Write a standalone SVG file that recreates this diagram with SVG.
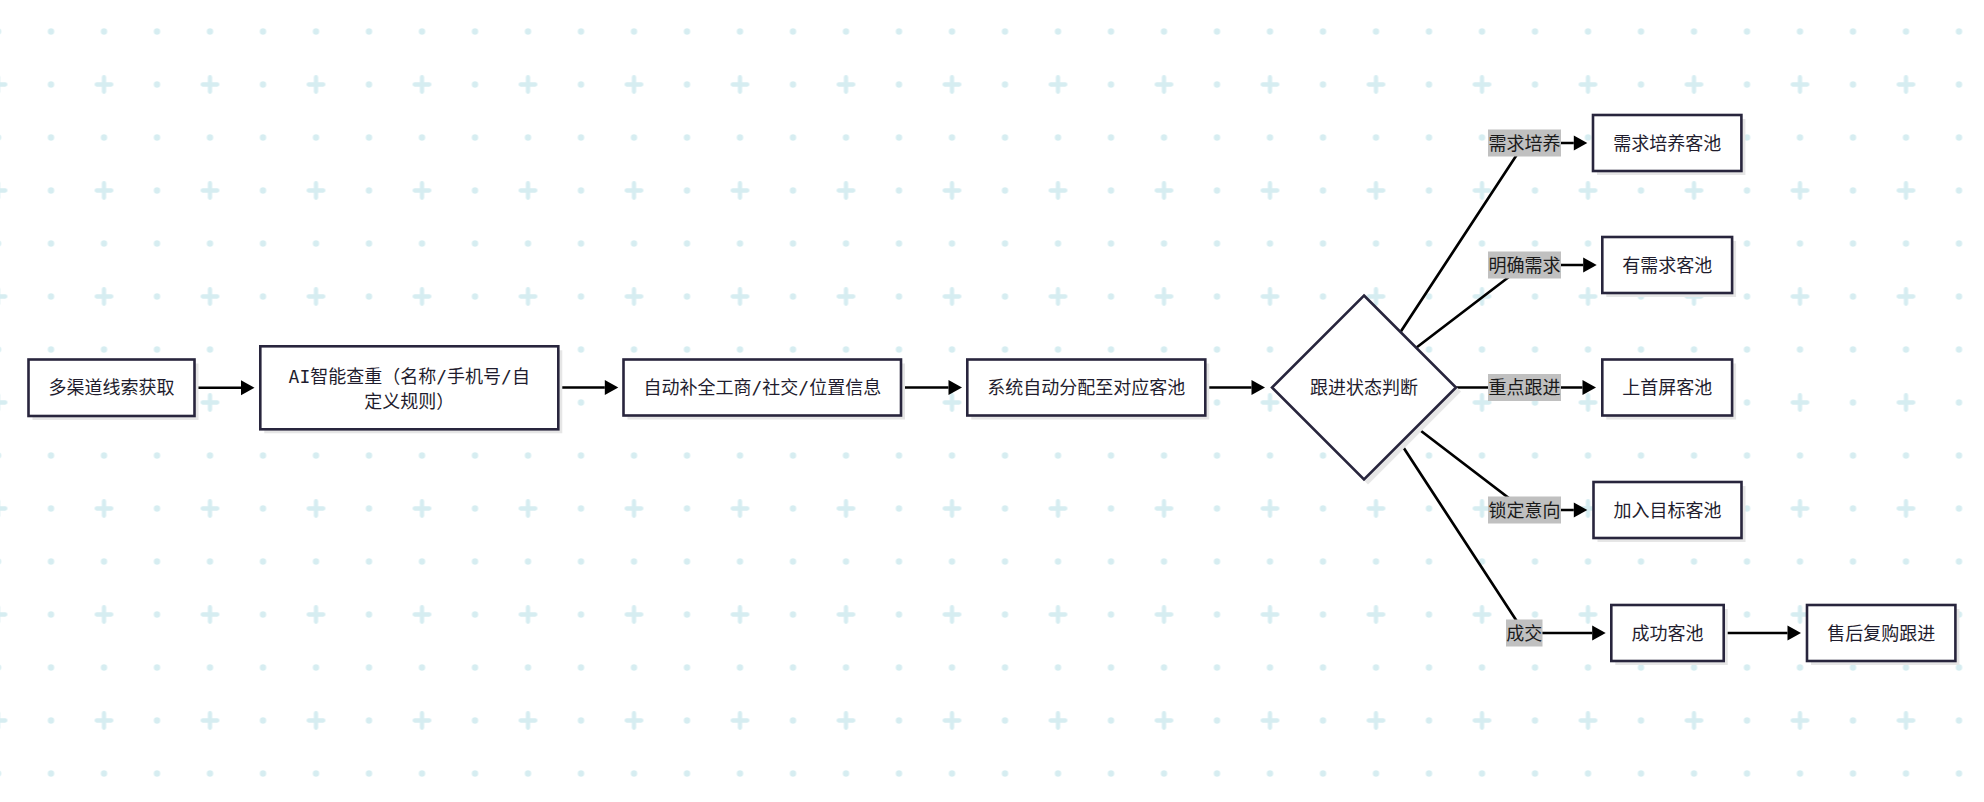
<svg xmlns="http://www.w3.org/2000/svg" width="1984" height="802" viewBox="0 0 1984 802">
<defs>
<style>
.box{fill:#ffffff;stroke:#28253d;stroke-width:2.6}
.shadow{fill:#e6e6e6;stroke:none}
.txt{font-family:"DejaVu Sans Mono","Noto Sans CJK SC",monospace;font-size:18px;fill:#1f1d2e;text-anchor:middle}
.edge{fill:none;stroke:#000000;stroke-width:2.7}
.lbg{fill:#c0c0c0}
.ltxt{font-family:"DejaVu Sans Mono","Noto Sans CJK SC",monospace;font-size:18px;fill:#1a1a1a;text-anchor:middle}
</style>
<pattern id="grid" x="-28.5" y="58" width="106" height="106" patternUnits="userSpaceOnUse">
<path d="M19.2,26.5 H33.8 M26.5,19.2 V33.8" stroke="#d6edf1" stroke-width="4.3" stroke-linecap="round" fill="none"/>
<circle cx="79.5" cy="26.5" r="3.2" fill="#d6edf1"/>
<circle cx="26.5" cy="79.5" r="3.2" fill="#d6edf1"/>
<circle cx="79.5" cy="79.5" r="3.2" fill="#d6edf1"/>
</pattern>
<marker id="arrow" markerUnits="userSpaceOnUse" markerWidth="14" markerHeight="16" refX="0" refY="7.5" orient="auto" overflow="visible">
<path d="M0,0 L13.5,7.5 L0,15 Z" fill="#000000"/>
</marker>
</defs>
<rect x="0" y="0" width="1984" height="802" fill="#ffffff"/>
<rect x="0" y="0" width="1984" height="802" fill="url(#grid)"/>

<g id="connectors">
<path class="edge" d="M196,387.75 H241" marker-end="url(#arrow)"/>
<path class="edge" d="M559.3,387.5 H604.8" marker-end="url(#arrow)"/>
<path class="edge" d="M902.3,387.5 H948.5" marker-end="url(#arrow)"/>
<path class="edge" d="M1206.7,387.5 H1251.5" marker-end="url(#arrow)"/>
<path class="edge" d="M1400.5,331.95 L1524.5,143 H1573.8" marker-end="url(#arrow)"/>
<path class="edge" d="M1416.2,347.7 L1524.5,265 H1583.2" marker-end="url(#arrow)"/>
<path class="edge" d="M1456,387.5 H1582.5" marker-end="url(#arrow)"/>
<path class="edge" d="M1416.2,427.3 L1524.5,510 H1573.8" marker-end="url(#arrow)"/>
<path class="edge" d="M1400.5,443.05 L1524.5,633 H1592.2" marker-end="url(#arrow)"/>
<path class="edge" d="M1725,633 H1787.5" marker-end="url(#arrow)"/>
<g id="label-1">
<rect class="lbg" x="1488" y="129.5" width="73" height="27"/>
<text class="ltxt" x="1524.5" y="149.5">需求培养</text>
</g>
<g id="label-2">
<rect class="lbg" x="1488" y="251.5" width="73" height="27"/>
<text class="ltxt" x="1524.5" y="271.5">明确需求</text>
</g>
<g id="label-3">
<rect class="lbg" x="1488" y="374" width="73" height="27"/>
<text class="ltxt" x="1524.5" y="394">重点跟进</text>
</g>
<g id="label-4">
<rect class="lbg" x="1488" y="496.5" width="73" height="27"/>
<text class="ltxt" x="1524.5" y="516.5">锁定意向</text>
</g>
<g id="label-5">
<rect class="lbg" x="1506" y="619.5" width="36.5" height="27"/>
<text class="ltxt" x="1524.25" y="639.5">成交</text>
</g>
</g>

<g id="node-source">
<rect class="shadow" x="32.5" y="363.5" width="166" height="56.5"/>
<rect class="box" x="28.5" y="359.5" width="166" height="56.5"/>
<text class="txt" x="111.5" y="394.3">多渠道线索获取</text>
</g>
<g id="node-dedupe">
<rect class="shadow" x="264.3" y="350.3" width="298" height="83"/>
<rect class="box" x="260.3" y="346.3" width="298" height="83"/>
<text class="txt" x="409.3" y="382.5">AI智能查重（名称/手机号/自</text>
<text class="txt" x="409.3" y="408.2">定义规则）</text>
</g>
<g id="node-enrich">
<rect class="shadow" x="627.5" y="363.5" width="277.5" height="56"/>
<rect class="box" x="623.5" y="359.5" width="277.5" height="56"/>
<text class="txt" x="762.3" y="394">自动补全工商/社交/位置信息</text>
</g>
<g id="node-assign">
<rect class="shadow" x="971.3" y="363.5" width="238" height="56"/>
<rect class="box" x="967.3" y="359.5" width="238" height="56"/>
<text class="txt" x="1086.3" y="394">系统自动分配至对应客池</text>
</g>
<g id="node-decision">
<polygon class="shadow" points="1368,298.5 1461,391.5 1368,484.5 1275,391.5"/>
<polygon class="box" points="1364,295.5 1456,387.5 1364,479.5 1272,387.5"/>
<text class="txt" x="1364" y="394">跟进状态判断</text>
</g>
<g id="node-nurture">
<rect class="shadow" x="1597" y="119" width="148.4" height="56"/>
<rect class="box" x="1593" y="115" width="148.4" height="56"/>
<text class="txt" x="1667.2" y="149.5">需求培养客池</text>
</g>
<g id="node-demand">
<rect class="shadow" x="1606.3" y="241" width="129.8" height="56"/>
<rect class="box" x="1602.3" y="237" width="129.8" height="56"/>
<text class="txt" x="1667.2" y="271.5">有需求客池</text>
</g>
<g id="node-topscreen">
<rect class="shadow" x="1606.3" y="363.5" width="129.8" height="56"/>
<rect class="box" x="1602.3" y="359.5" width="129.8" height="56"/>
<text class="txt" x="1667.2" y="394">上首屏客池</text>
</g>
<g id="node-target">
<rect class="shadow" x="1597.5" y="486" width="148" height="56"/>
<rect class="box" x="1593.5" y="482" width="148" height="56"/>
<text class="txt" x="1667.5" y="516.5">加入目标客池</text>
</g>
<g id="node-success">
<rect class="shadow" x="1615.3" y="609" width="112.4" height="56"/>
<rect class="box" x="1611.3" y="605" width="112.4" height="56"/>
<text class="txt" x="1667.5" y="639.5">成功客池</text>
</g>
<g id="node-aftersales">
<rect class="shadow" x="1811" y="609" width="148.4" height="56"/>
<rect class="box" x="1807" y="605" width="148.4" height="56"/>
<text class="txt" x="1881.2" y="639.5">售后复购跟进</text>
</g>
</svg>
